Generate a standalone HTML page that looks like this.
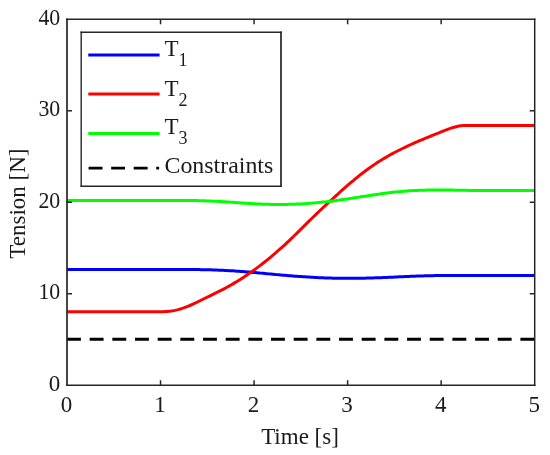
<!DOCTYPE html>
<html><head><meta charset="utf-8"><style>
html,body{margin:0;padding:0;background:#fff;}
svg{display:block;}
text{font-family:'Liberation Serif', serif;fill:#1a1a1a;}
</style></head><body>
<svg width="550" height="455" viewBox="0 0 550 455">
<rect x="0" y="0" width="550" height="455" fill="#fff"/>
<g fill="none" stroke-width="3" stroke-linejoin="round">
<path d="M67.0,339.25 L534.7,339.25" stroke="#000" stroke-width="2.8" stroke-dasharray="13.9 8.77"/>
<path d="M67.00,269.50 L69.00,269.50 L71.00,269.50 L73.00,269.50 L75.00,269.50 L77.00,269.50 L79.00,269.50 L81.00,269.50 L83.00,269.50 L85.00,269.50 L87.00,269.50 L89.00,269.50 L91.00,269.50 L93.00,269.50 L95.00,269.50 L97.00,269.50 L99.00,269.50 L101.00,269.50 L103.00,269.50 L105.00,269.50 L107.00,269.50 L109.00,269.50 L111.00,269.50 L113.00,269.50 L115.00,269.50 L117.00,269.50 L119.00,269.50 L121.00,269.50 L123.00,269.50 L125.00,269.50 L127.00,269.50 L129.00,269.50 L131.00,269.50 L133.00,269.50 L135.00,269.50 L137.00,269.50 L139.00,269.50 L141.00,269.50 L143.00,269.50 L145.00,269.50 L147.00,269.50 L149.00,269.50 L151.00,269.50 L153.00,269.50 L155.00,269.50 L157.00,269.50 L159.00,269.50 L161.00,269.50 L163.00,269.50 L165.00,269.50 L167.00,269.50 L169.00,269.50 L171.00,269.50 L173.00,269.50 L175.00,269.50 L177.00,269.50 L179.00,269.50 L181.00,269.45 L183.00,269.46 L185.00,269.47 L187.00,269.48 L189.00,269.49 L191.00,269.51 L193.00,269.52 L195.00,269.54 L197.00,269.57 L199.00,269.60 L201.00,269.63 L203.00,269.67 L205.00,269.71 L207.00,269.75 L209.00,269.80 L211.00,269.86 L213.00,269.92 L215.00,269.99 L217.00,270.06 L219.00,270.14 L221.00,270.22 L223.00,270.32 L225.00,270.41 L227.00,270.52 L229.00,270.63 L231.00,270.75 L233.00,270.87 L235.00,271.00 L237.00,271.13 L239.00,271.27 L241.00,271.42 L243.00,271.57 L245.00,271.72 L247.00,271.88 L249.00,272.05 L251.00,272.22 L253.00,272.39 L255.00,272.57 L257.00,272.75 L259.00,272.93 L261.00,273.12 L263.00,273.31 L265.00,273.50 L267.00,273.69 L269.00,273.88 L271.00,274.07 L273.00,274.26 L275.00,274.44 L277.00,274.63 L279.00,274.81 L281.00,274.99 L283.00,275.17 L285.00,275.34 L287.00,275.51 L289.00,275.67 L291.00,275.83 L293.00,275.99 L295.00,276.14 L297.00,276.29 L299.00,276.44 L301.00,276.58 L303.00,276.72 L305.00,276.85 L307.00,276.97 L309.00,277.10 L311.00,277.21 L313.00,277.33 L315.00,277.43 L317.00,277.54 L319.00,277.63 L321.00,277.72 L323.00,277.81 L325.00,277.89 L327.00,277.96 L329.00,278.03 L331.00,278.09 L333.00,278.15 L335.00,278.20 L337.00,278.24 L339.00,278.28 L341.00,278.31 L343.00,278.34 L345.00,278.35 L347.00,278.36 L349.00,278.37 L351.00,278.36 L353.00,278.35 L355.00,278.34 L357.00,278.31 L359.00,278.28 L361.00,278.25 L363.00,278.21 L365.00,278.16 L367.00,278.11 L369.00,278.05 L371.00,277.99 L373.00,277.93 L375.00,277.86 L377.00,277.79 L379.00,277.72 L381.00,277.64 L383.00,277.56 L385.00,277.48 L387.00,277.40 L389.00,277.31 L391.00,277.23 L393.00,277.14 L395.00,277.05 L397.00,276.96 L399.00,276.87 L401.00,276.78 L403.00,276.70 L405.00,276.61 L407.00,276.52 L409.00,276.44 L411.00,276.35 L413.00,276.27 L415.00,276.19 L417.00,276.11 L419.00,276.04 L421.00,275.97 L423.00,275.90 L425.00,275.84 L427.00,275.78 L429.00,275.72 L431.00,275.67 L433.00,275.63 L435.00,275.58 L437.00,275.55 L439.00,275.51 L441.00,275.49 L443.00,275.46 L445.00,275.44 L447.00,275.42 L449.00,275.40 L451.00,275.39 L453.00,275.38 L455.00,275.38 L457.00,275.50 L459.00,275.50 L461.00,275.50 L463.00,275.50 L465.00,275.50 L467.00,275.50 L469.00,275.50 L471.00,275.50 L473.00,275.50 L475.00,275.50 L477.00,275.50 L479.00,275.50 L481.00,275.50 L483.00,275.50 L485.00,275.50 L487.00,275.50 L489.00,275.50 L491.00,275.50 L493.00,275.50 L495.00,275.50 L497.00,275.50 L499.00,275.50 L501.00,275.50 L503.00,275.50 L505.00,275.50 L507.00,275.50 L509.00,275.50 L511.00,275.50 L513.00,275.50 L515.00,275.50 L517.00,275.50 L519.00,275.50 L521.00,275.50 L523.00,275.50 L525.00,275.50 L527.00,275.50 L529.00,275.50 L531.00,275.50 L533.00,275.50 L534.50,275.50" stroke="#0000ff"/>
<path d="M67.00,311.80 L69.00,311.80 L71.00,311.80 L73.00,311.80 L75.00,311.80 L77.00,311.80 L79.00,311.80 L81.00,311.80 L83.00,311.80 L85.00,311.80 L87.00,311.80 L89.00,311.80 L91.00,311.80 L93.00,311.80 L95.00,311.80 L97.00,311.80 L99.00,311.80 L101.00,311.80 L103.00,311.80 L105.00,311.80 L107.00,311.80 L109.00,311.80 L111.00,311.80 L113.00,311.80 L115.00,311.80 L117.00,311.80 L119.00,311.80 L121.00,311.80 L123.00,311.80 L125.00,311.80 L127.00,311.80 L129.00,311.80 L131.00,311.80 L133.00,311.80 L135.00,311.80 L137.00,311.80 L139.00,311.80 L141.00,311.80 L143.00,311.80 L145.00,311.80 L147.00,311.80 L149.00,311.80 L151.00,311.80 L153.00,311.80 L155.00,311.80 L157.00,311.80 L159.00,311.80 L161.00,311.80 L163.00,311.71 L165.00,311.60 L167.00,311.45 L169.00,311.27 L171.00,311.03 L173.00,310.73 L175.00,310.36 L177.00,309.91 L179.00,309.39 L181.00,308.80 L183.00,308.15 L185.00,307.43 L187.00,306.67 L189.00,305.85 L191.00,305.00 L193.00,304.10 L195.00,303.18 L197.00,302.23 L199.00,301.26 L201.00,300.27 L203.00,299.28 L205.00,298.28 L207.00,297.28 L209.00,296.29 L211.00,295.31 L213.00,294.34 L215.00,293.38 L217.00,292.41 L219.00,291.42 L221.00,290.42 L223.00,289.39 L225.00,288.33 L227.00,287.25 L229.00,286.14 L231.00,285.00 L233.00,283.84 L235.00,282.65 L237.00,281.44 L239.00,280.20 L241.00,278.93 L243.00,277.64 L245.00,276.33 L247.00,274.98 L249.00,273.61 L251.00,272.22 L253.00,270.80 L255.00,269.35 L257.00,267.88 L259.00,266.38 L261.00,264.86 L263.00,263.31 L265.00,261.73 L267.00,260.13 L269.00,258.51 L271.00,256.85 L273.00,255.18 L275.00,253.47 L277.00,251.74 L279.00,249.99 L281.00,248.21 L283.00,246.40 L285.00,244.57 L287.00,242.71 L289.00,240.83 L291.00,238.92 L293.00,236.99 L295.00,235.04 L297.00,233.07 L299.00,231.10 L301.00,229.11 L303.00,227.12 L305.00,225.14 L307.00,223.16 L309.00,221.18 L311.00,219.23 L313.00,217.28 L315.00,215.35 L317.00,213.44 L319.00,211.53 L321.00,209.64 L323.00,207.76 L325.00,205.89 L327.00,204.02 L329.00,202.17 L331.00,200.32 L333.00,198.48 L335.00,196.65 L337.00,194.82 L339.00,193.01 L341.00,191.22 L343.00,189.43 L345.00,187.67 L347.00,185.92 L349.00,184.19 L351.00,182.48 L353.00,180.80 L355.00,179.13 L357.00,177.49 L359.00,175.88 L361.00,174.30 L363.00,172.75 L365.00,171.22 L367.00,169.73 L369.00,168.28 L371.00,166.85 L373.00,165.47 L375.00,164.12 L377.00,162.80 L379.00,161.52 L381.00,160.26 L383.00,159.04 L385.00,157.85 L387.00,156.68 L389.00,155.54 L391.00,154.43 L393.00,153.34 L395.00,152.28 L397.00,151.24 L399.00,150.22 L401.00,149.22 L403.00,148.24 L405.00,147.28 L407.00,146.34 L409.00,145.41 L411.00,144.50 L413.00,143.61 L415.00,142.72 L417.00,141.85 L419.00,140.99 L421.00,140.14 L423.00,139.30 L425.00,138.47 L427.00,137.65 L429.00,136.83 L431.00,136.01 L433.00,135.20 L435.00,134.39 L437.00,133.58 L439.00,132.78 L441.00,131.97 L443.00,131.17 L445.00,130.38 L447.00,129.61 L449.00,128.88 L451.00,128.19 L453.00,127.55 L455.00,126.97 L457.00,126.47 L459.00,126.05 L461.00,125.72 L463.00,125.50 L465.00,125.50 L467.00,125.50 L469.00,125.50 L471.00,125.50 L473.00,125.50 L475.00,125.50 L477.00,125.50 L479.00,125.50 L481.00,125.50 L483.00,125.50 L485.00,125.50 L487.00,125.50 L489.00,125.50 L491.00,125.50 L493.00,125.50 L495.00,125.50 L497.00,125.50 L499.00,125.50 L501.00,125.50 L503.00,125.50 L505.00,125.50 L507.00,125.50 L509.00,125.50 L511.00,125.50 L513.00,125.50 L515.00,125.50 L517.00,125.50 L519.00,125.50 L521.00,125.50 L523.00,125.50 L525.00,125.50 L527.00,125.50 L529.00,125.50 L531.00,125.50 L533.00,125.50 L534.50,125.50" stroke="#ff0000"/>
<path d="M67.00,200.50 L69.00,200.50 L71.00,200.50 L73.00,200.50 L75.00,200.50 L77.00,200.50 L79.00,200.50 L81.00,200.50 L83.00,200.50 L85.00,200.50 L87.00,200.50 L89.00,200.50 L91.00,200.50 L93.00,200.50 L95.00,200.50 L97.00,200.50 L99.00,200.50 L101.00,200.50 L103.00,200.50 L105.00,200.50 L107.00,200.50 L109.00,200.50 L111.00,200.50 L113.00,200.50 L115.00,200.50 L117.00,200.50 L119.00,200.50 L121.00,200.50 L123.00,200.50 L125.00,200.50 L127.00,200.50 L129.00,200.50 L131.00,200.50 L133.00,200.50 L135.00,200.50 L137.00,200.50 L139.00,200.50 L141.00,200.50 L143.00,200.50 L145.00,200.50 L147.00,200.50 L149.00,200.50 L151.00,200.50 L153.00,200.50 L155.00,200.50 L157.00,200.50 L159.00,200.50 L161.00,200.50 L163.00,200.50 L165.00,200.50 L167.00,200.50 L169.00,200.50 L171.00,200.50 L173.00,200.50 L175.00,200.50 L177.00,200.50 L179.00,200.50 L181.00,200.44 L183.00,200.45 L185.00,200.46 L187.00,200.48 L189.00,200.49 L191.00,200.52 L193.00,200.54 L195.00,200.58 L197.00,200.61 L199.00,200.66 L201.00,200.71 L203.00,200.76 L205.00,200.83 L207.00,200.90 L209.00,200.97 L211.00,201.06 L213.00,201.15 L215.00,201.25 L217.00,201.36 L219.00,201.47 L221.00,201.59 L223.00,201.71 L225.00,201.84 L227.00,201.96 L229.00,202.10 L231.00,202.23 L233.00,202.37 L235.00,202.50 L237.00,202.64 L239.00,202.78 L241.00,202.91 L243.00,203.05 L245.00,203.18 L247.00,203.31 L249.00,203.43 L251.00,203.55 L253.00,203.67 L255.00,203.78 L257.00,203.89 L259.00,203.99 L261.00,204.08 L263.00,204.16 L265.00,204.24 L267.00,204.30 L269.00,204.36 L271.00,204.41 L273.00,204.44 L275.00,204.47 L277.00,204.49 L279.00,204.49 L281.00,204.48 L283.00,204.47 L285.00,204.44 L287.00,204.41 L289.00,204.36 L291.00,204.31 L293.00,204.24 L295.00,204.16 L297.00,204.08 L299.00,203.98 L301.00,203.88 L303.00,203.76 L305.00,203.64 L307.00,203.51 L309.00,203.36 L311.00,203.21 L313.00,203.05 L315.00,202.88 L317.00,202.70 L319.00,202.51 L321.00,202.31 L323.00,202.10 L325.00,201.88 L327.00,201.66 L329.00,201.42 L331.00,201.18 L333.00,200.93 L335.00,200.67 L337.00,200.40 L339.00,200.12 L341.00,199.84 L343.00,199.56 L345.00,199.27 L347.00,198.97 L349.00,198.67 L351.00,198.37 L353.00,198.07 L355.00,197.76 L357.00,197.45 L359.00,197.14 L361.00,196.83 L363.00,196.52 L365.00,196.21 L367.00,195.91 L369.00,195.60 L371.00,195.30 L373.00,195.00 L375.00,194.71 L377.00,194.42 L379.00,194.13 L381.00,193.85 L383.00,193.58 L385.00,193.31 L387.00,193.05 L389.00,192.80 L391.00,192.56 L393.00,192.32 L395.00,192.10 L397.00,191.88 L399.00,191.68 L401.00,191.49 L403.00,191.31 L405.00,191.14 L407.00,190.99 L409.00,190.85 L411.00,190.72 L413.00,190.60 L415.00,190.50 L417.00,190.41 L419.00,190.32 L421.00,190.25 L423.00,190.19 L425.00,190.13 L427.00,190.09 L429.00,190.05 L431.00,190.02 L433.00,190.00 L435.00,189.99 L437.00,189.98 L439.00,189.98 L441.00,189.98 L443.00,189.99 L445.00,190.00 L447.00,190.02 L449.00,190.05 L451.00,190.07 L453.00,190.10 L455.00,190.13 L457.00,190.17 L459.00,190.21 L461.00,190.24 L463.00,190.28 L465.00,190.32 L467.00,190.36 L469.00,190.40 L471.00,190.44 L473.00,190.47 L475.00,190.51 L477.00,190.54 L479.00,190.57 L481.00,190.50 L483.00,190.50 L485.00,190.50 L487.00,190.50 L489.00,190.50 L491.00,190.50 L493.00,190.50 L495.00,190.50 L497.00,190.50 L499.00,190.50 L501.00,190.50 L503.00,190.50 L505.00,190.50 L507.00,190.50 L509.00,190.50 L511.00,190.50 L513.00,190.50 L515.00,190.50 L517.00,190.50 L519.00,190.50 L521.00,190.50 L523.00,190.50 L525.00,190.50 L527.00,190.50 L529.00,190.50 L531.00,190.50 L533.00,190.50 L534.50,190.50" stroke="#00ff00"/>
</g>
<g stroke="#262626" stroke-width="1.5" fill="none">
<line x1="160.54" y1="385.25" x2="160.54" y2="380.25" />
<line x1="160.54" y1="19.3" x2="160.54" y2="24.3" />
<line x1="254.08" y1="385.25" x2="254.08" y2="380.25" />
<line x1="254.08" y1="19.3" x2="254.08" y2="24.3" />
<line x1="347.62" y1="385.25" x2="347.62" y2="380.25" />
<line x1="347.62" y1="19.3" x2="347.62" y2="24.3" />
<line x1="441.16" y1="385.25" x2="441.16" y2="380.25" />
<line x1="441.16" y1="19.3" x2="441.16" y2="24.3" />
<line x1="67.0" y1="293.76" x2="72.0" y2="293.76" />
<line x1="534.7" y1="293.76" x2="529.7" y2="293.76" />
<line x1="67.0" y1="202.28" x2="72.0" y2="202.28" />
<line x1="534.7" y1="202.28" x2="529.7" y2="202.28" />
<line x1="67.0" y1="110.79" x2="72.0" y2="110.79" />
<line x1="534.7" y1="110.79" x2="529.7" y2="110.79" />
<line x1="67.0" y1="18.55" x2="67.0" y2="386.0" stroke-width="1.7"/>
<line x1="534.7" y1="18.55" x2="534.7" y2="386.0" />
<line x1="66.15" y1="19.3" x2="535.45" y2="19.3" />
<line x1="66.15" y1="385.25" x2="535.45" y2="385.25" />
</g>
<g font-size="23">
<text x="60.2" y="390.75" text-anchor="end">0</text>
<text x="60.2" y="299.26" text-anchor="end" textLength="21.8" lengthAdjust="spacingAndGlyphs">10</text>
<text x="60.2" y="207.78" text-anchor="end" textLength="21.8" lengthAdjust="spacingAndGlyphs">20</text>
<text x="60.2" y="116.29" text-anchor="end" textLength="21.8" lengthAdjust="spacingAndGlyphs">30</text>
<text x="60.2" y="24.80" text-anchor="end" textLength="21.8" lengthAdjust="spacingAndGlyphs">40</text>
<text x="66.50" y="411.7" text-anchor="middle">0</text>
<text x="160.04" y="411.7" text-anchor="middle">1</text>
<text x="253.58" y="411.7" text-anchor="middle">2</text>
<text x="347.12" y="411.7" text-anchor="middle">3</text>
<text x="440.66" y="411.7" text-anchor="middle">4</text>
<text x="534.20" y="411.7" text-anchor="middle">5</text>
<text x="300" y="443.5" text-anchor="middle">Time [s]</text>
<text transform="translate(24.6,203.6) rotate(-90)" text-anchor="middle">Tension [N]</text>
</g>
<g>
<rect x="81.2" y="32.2" width="199.8" height="154.1" fill="#fff"/>
<g stroke="#262626" fill="none">
<line x1="80.5" y1="32.2" x2="281.85" y2="32.2" stroke-width="1.4"/>
<line x1="80.5" y1="186.25" x2="281.85" y2="186.25" stroke-width="1.5"/>
<line x1="81.2" y1="31.5" x2="81.2" y2="187" stroke-width="1.4"/>
<line x1="281.0" y1="31.5" x2="281.0" y2="187" stroke-width="1.7"/>
</g>
<line x1="88.3" y1="54.9" x2="159.6" y2="54.9" stroke="#0000ff" stroke-width="3"/>
<line x1="88.3" y1="93.9" x2="159.6" y2="93.9" stroke="#ff0000" stroke-width="3"/>
<line x1="88.3" y1="133.5" x2="159.6" y2="133.5" stroke="#00ff00" stroke-width="3"/>
<line x1="88.6" y1="168.1" x2="159.1" y2="168.1" stroke="#000" stroke-width="2.8" stroke-dasharray="13.9 8.65"/>
<g font-size="23">
<text x="164.5" y="55.9">T<tspan font-size="18" dy="10.2">1</tspan></text>
<text x="164.5" y="95.9">T<tspan font-size="18" dy="10.2">2</tspan></text>
<text x="164.5" y="134.2">T<tspan font-size="18" dy="10.0">3</tspan></text>
<text x="164.5" y="172.9" textLength="108.8" lengthAdjust="spacingAndGlyphs">Constraints</text>
</g>
</g>
</svg>
</body></html>
